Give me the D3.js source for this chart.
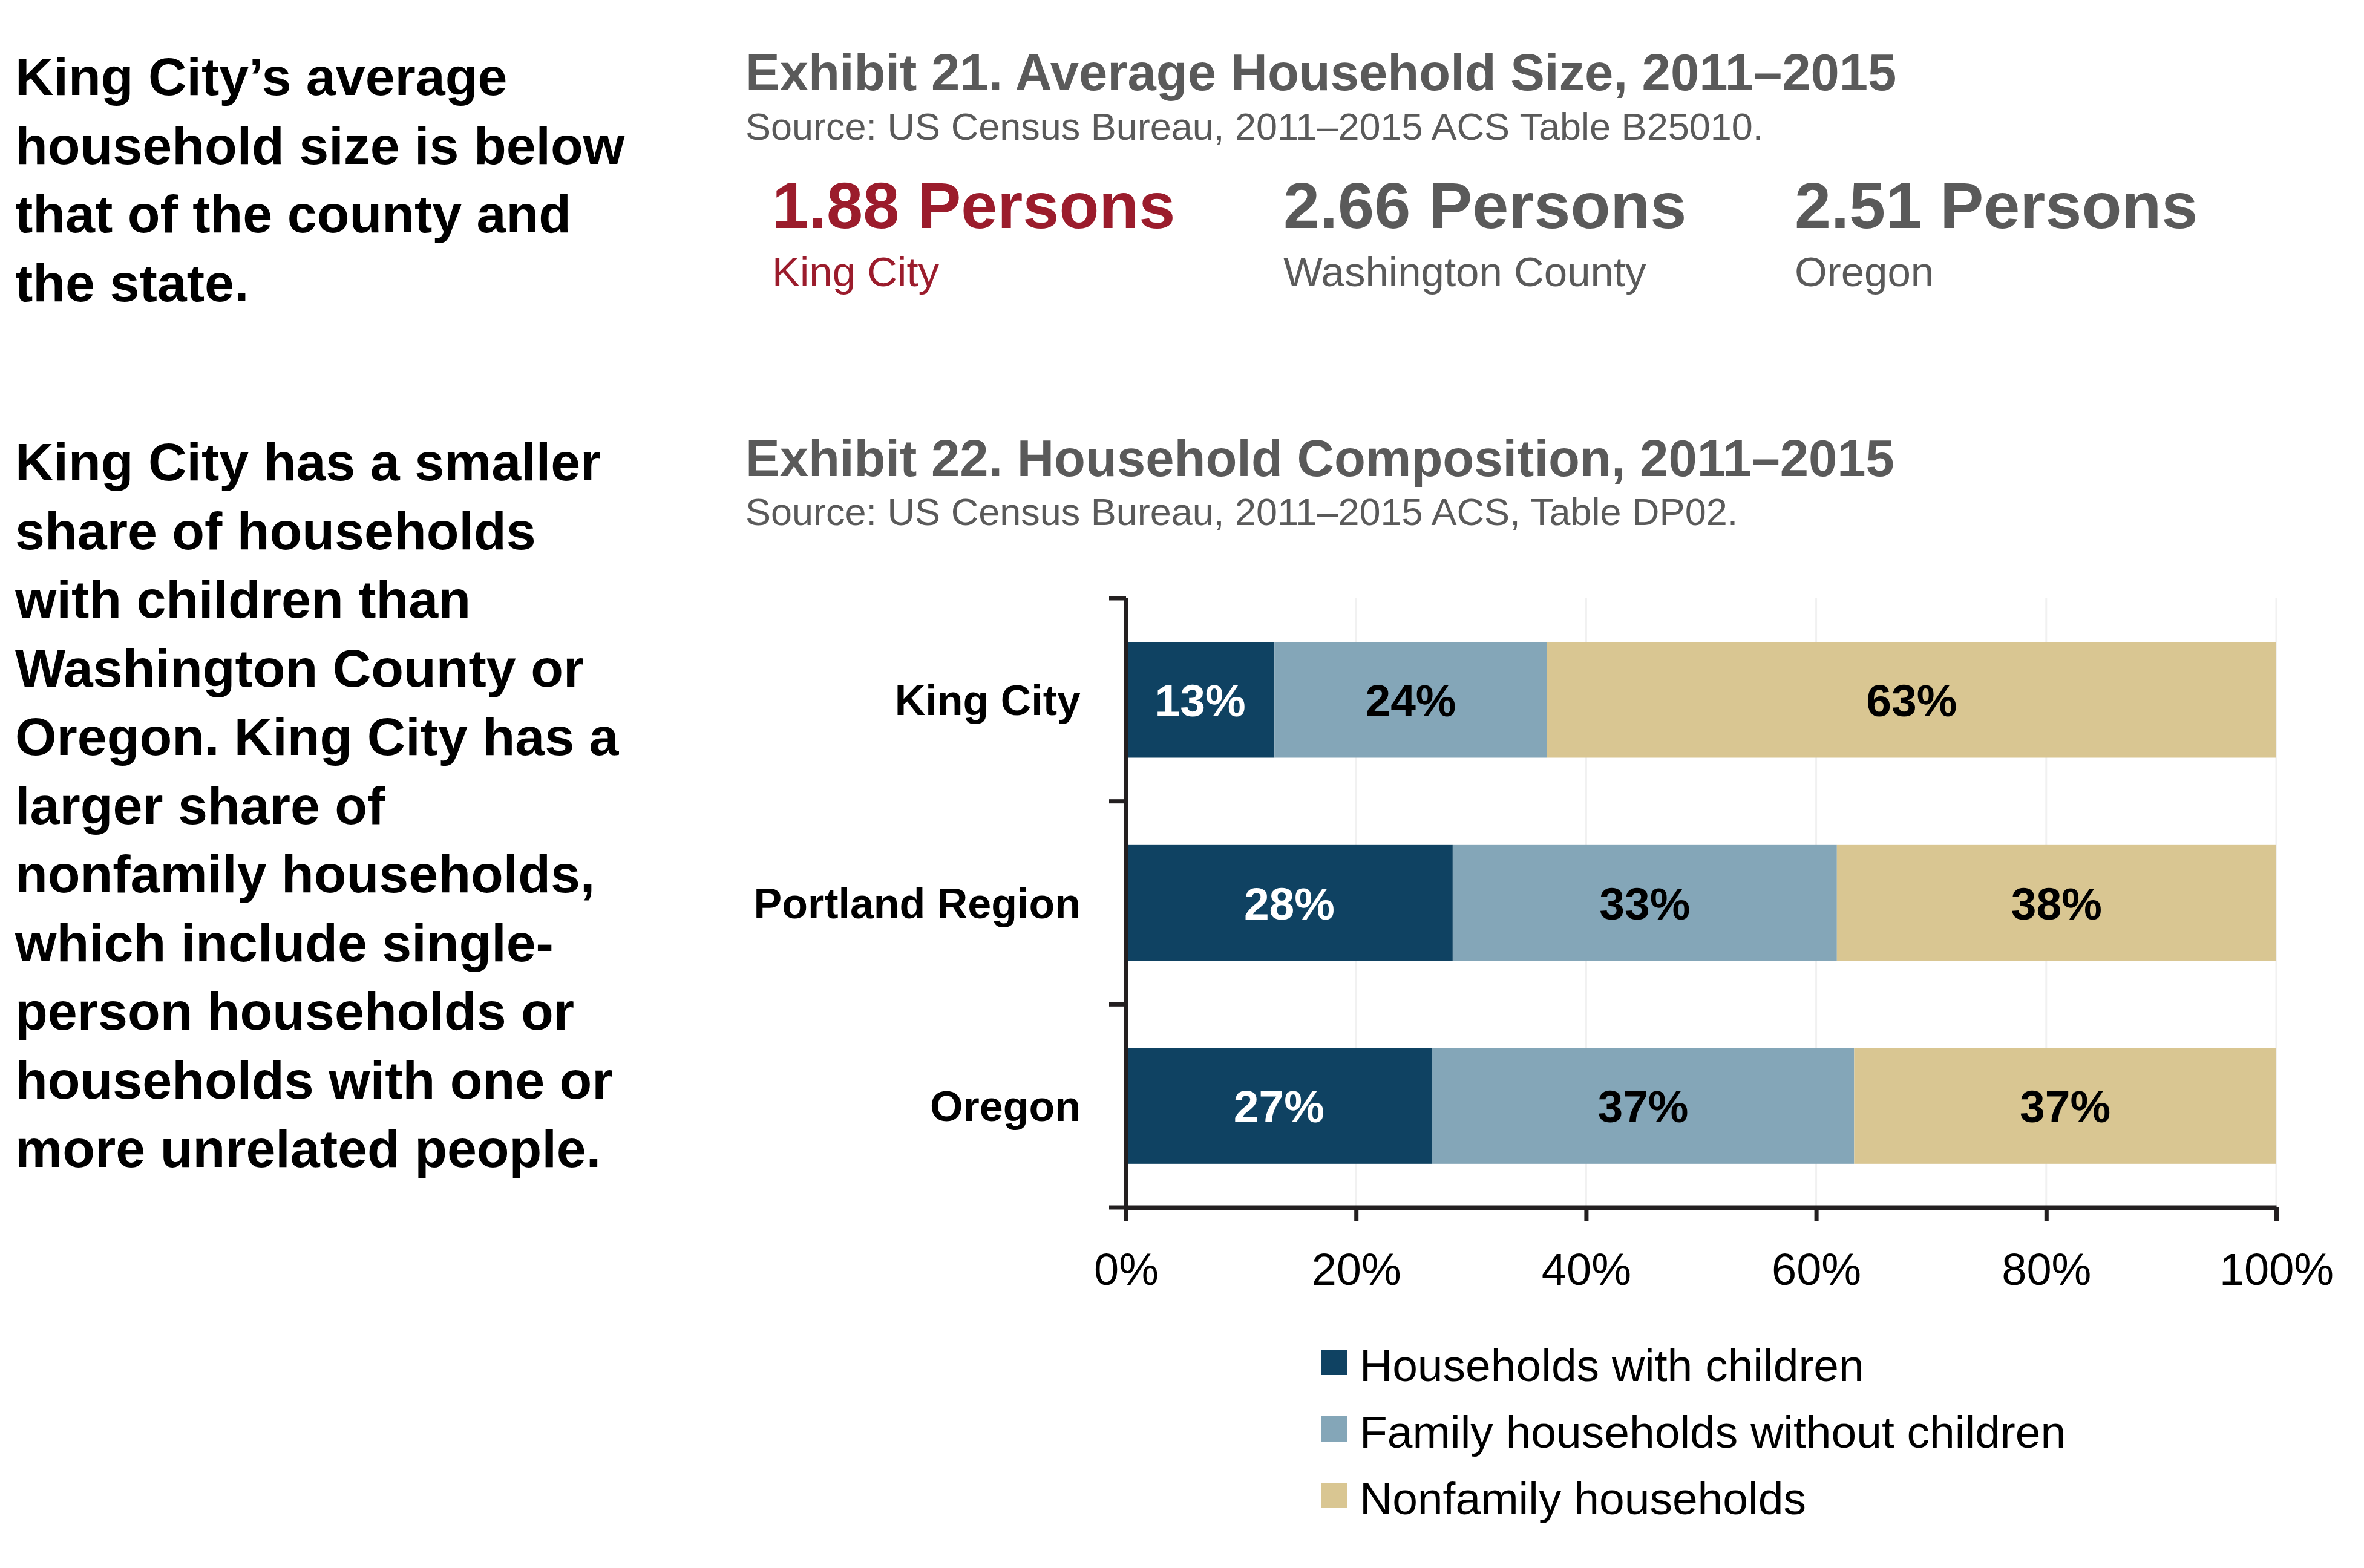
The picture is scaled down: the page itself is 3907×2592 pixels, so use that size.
<!DOCTYPE html>
<html>
<head>
<meta charset="utf-8">
<script src="https://cdn.jsdelivr.net/npm/d3@7"></script>
<style>
  body { margin: 0; background: #fff; }
  svg { display: block; font-family: "Liberation Sans", Arial, sans-serif; }
</style>
</head>
<body>
<script>
// side notes
var note1 = ["King City\u2019s average", "household size is below", "that of the county and", "the state."];
var note2 = ["King City has a smaller", "share of households", "with children than", "Washington County or",
  "Oregon. King City has a", "larger share of", "nonfamily households,", "which include single-",
  "person households or", "households with one or", "more unrelated people."];

// exhibit 21
var sizePlaces = ["King City", "Washington County", "Oregon"];
var sizeValues = [1.88, 2.66, 2.51];

// exhibit 22
var places = ["King City", "Portland Region", "Oregon"];
var seriesNames = ["Households with children", "Family households without children", "Nonfamily households"];
var withChildren = [12.9, 28.4, 26.6];
var familyNoChildren = [23.7, 33.4, 36.7];
var nonfamily = [63.4, 38.2, 36.7];
var xTicks = [0, 20, 40, 60, 80, 100];
var colors = ["#0f4262", "#84a6b8", "#d9c692"];

var W = 3907, H = 2592;
var svg = d3.select("body").append("svg")
  .attr("width", W)
  .attr("height", H);

// left notes
svg.append("g").selectAll("text").data(note1)
  .enter().append("text")
  .attr("x", 25)
  .attr("y", (d, i) => 157 + i * 113.5)
  .attr("font-size", 88)
  .attr("font-weight", "bold")
  .attr("fill", "#000")
  .text(d => d);

svg.append("g").selectAll("text").data(note2)
  .enter().append("text")
  .attr("x", 25)
  .attr("y", (d, i) => 794 + i * 113.5)
  .attr("font-size", 88)
  .attr("font-weight", "bold")
  .attr("fill", "#000")
  .text(d => d);

// exhibit 21
svg.append("text")
  .attr("x", 1232).attr("y", 149)
  .attr("font-size", 85).attr("font-weight", "bold").attr("fill", "#5a5a5a")
  .text("Exhibit 21. Average Household Size, 2011\u20132015");
svg.append("text")
  .attr("x", 1232).attr("y", 231)
  .attr("font-size", 63).attr("fill", "#5a5a5a")
  .text("Source: US Census Bureau, 2011\u20132015 ACS Table B25010.");

var sizeX = d3.scalePoint().domain(sizePlaces).range([1276, 2966]);
var sizeG = svg.append("g").selectAll("g").data(sizePlaces)
  .enter().append("g");
sizeG.append("text")
  .attr("x", d => sizeX(d)).attr("y", 377)
  .attr("font-size", 108).attr("font-weight", "bold")
  .attr("fill", (d, i) => i == 0 ? "#9b1c2c" : "#5a5a5a")
  .text((d, i) => d3.format(".2f")(sizeValues[i]) + " Persons");
sizeG.append("text")
  .attr("x", d => sizeX(d)).attr("y", 473)
  .attr("font-size", 69)
  .attr("fill", (d, i) => i == 0 ? "#9b1c2c" : "#5a5a5a")
  .text(d => d);

// exhibit 22
svg.append("text")
  .attr("x", 1232).attr("y", 787)
  .attr("font-size", 85).attr("font-weight", "bold").attr("fill", "#5a5a5a")
  .text("Exhibit 22. Household Composition, 2011\u20132015");
svg.append("text")
  .attr("x", 1232).attr("y", 868)
  .attr("font-size", 63).attr("fill", "#5a5a5a")
  .text("Source: US Census Bureau, 2011\u20132015 ACS, Table DP02.");

var rows = places.map((p, i) => ({
  place: p,
  [seriesNames[0]]: withChildren[i],
  [seriesNames[1]]: familyNoChildren[i],
  [seriesNames[2]]: nonfamily[i]
}));
var stacked = d3.stack().keys(seriesNames)(rows);

var x = d3.scaleLinear().domain([0, 100]).range([1861, 3762]);
var y = d3.scaleBand().domain(places).range([989, 1996]).paddingInner(0.43).paddingOuter(0.215);
var color = d3.scaleOrdinal().domain(seriesNames).range(colors);

var chart = svg.append("g");

// faint gridlines
chart.selectAll("line.grid").data(xTicks.slice(1))
  .enter().append("line")
  .attr("class", "grid")
  .attr("x1", d => x(d)).attr("x2", d => x(d))
  .attr("y1", y.range()[0]).attr("y2", y.range()[1])
  .attr("stroke", "#f1f1f1").attr("stroke-width", 3);

var layer = chart.selectAll("g.layer").data(stacked)
  .enter().append("g")
  .attr("class", "layer")
  .attr("fill", d => color(d.key));

layer.selectAll("rect").data(d => d)
  .enter().append("rect")
  .attr("x", d => x(d[0]))
  .attr("y", d => y(d.data.place))
  .attr("width", d => x(d[1]) - x(d[0]))
  .attr("height", y.bandwidth());

chart.selectAll("g.lbl").data(stacked)
  .enter().append("g")
  .attr("class", "lbl")
  .selectAll("text").data((d, i) => d.map(v => ({ v: v, s: i })))
  .enter().append("text")
  .attr("x", d => x((d.v[0] + d.v[1]) / 2))
  .attr("y", d => y(d.v.data.place) + y.bandwidth() / 2)
  .attr("dy", "0.36em")
  .attr("text-anchor", "middle")
  .attr("font-size", 75).attr("font-weight", "bold")
  .attr("fill", d => d.s == 0 ? "#fff" : "#000")
  .text(d => d3.format(".0f")(d.v[1] - d.v[0]) + "%");

// x axis
var xAxis = chart.append("g")
  .attr("transform", "translate(0," + y.range()[1] + ")")
  .call(d3.axisBottom(x).tickValues(xTicks).tickFormat(d => d + "%")
    .tickSize(23).tickSizeOuter(0).tickPadding(52));
xAxis.select(".domain").attr("stroke", "#231f20").attr("stroke-width", 8);
xAxis.selectAll(".tick line").attr("stroke", "#231f20").attr("stroke-width", 7);
xAxis.selectAll(".tick text")
  .attr("font-size", 74).attr("fill", "#000")
  .attr("font-family", "Liberation Sans, Arial, sans-serif");

// y axis with ticks at category boundaries
var bounds = places.map(p => y(p) - y.step() * y.paddingInner() / 2).concat([y.range()[1]]);
chart.append("line")
  .attr("x1", x(0)).attr("x2", x(0))
  .attr("y1", y.range()[0]).attr("y2", y.range()[1] + 4)
  .attr("stroke", "#231f20").attr("stroke-width", 8);
chart.selectAll("line.ytick").data(bounds)
  .enter().append("line")
  .attr("class", "ytick")
  .attr("x1", x(0) - 28).attr("x2", x(0))
  .attr("y1", d => d).attr("y2", d => d)
  .attr("stroke", "#231f20").attr("stroke-width", 7);

chart.selectAll("text.cat").data(places)
  .enter().append("text")
  .attr("class", "cat")
  .attr("x", 1786)
  .attr("y", d => y(d) + y.bandwidth() / 2)
  .attr("dy", "0.36em")
  .attr("text-anchor", "end")
  .attr("font-size", 70).attr("font-weight", "bold").attr("fill", "#000")
  .text(d => d);

// legend
var legend = svg.append("g").selectAll("g").data(seriesNames)
  .enter().append("g")
  .attr("transform", (d, i) => "translate(2183," + (2231 + i * 110) + ")");
legend.append("rect")
  .attr("width", 43).attr("height", 42)
  .attr("fill", d => color(d));
legend.append("text")
  .attr("x", 64).attr("y", 52)
  .attr("font-size", 75).attr("fill", "#000")
  .text(d => d);
</script>
</body>
</html>
